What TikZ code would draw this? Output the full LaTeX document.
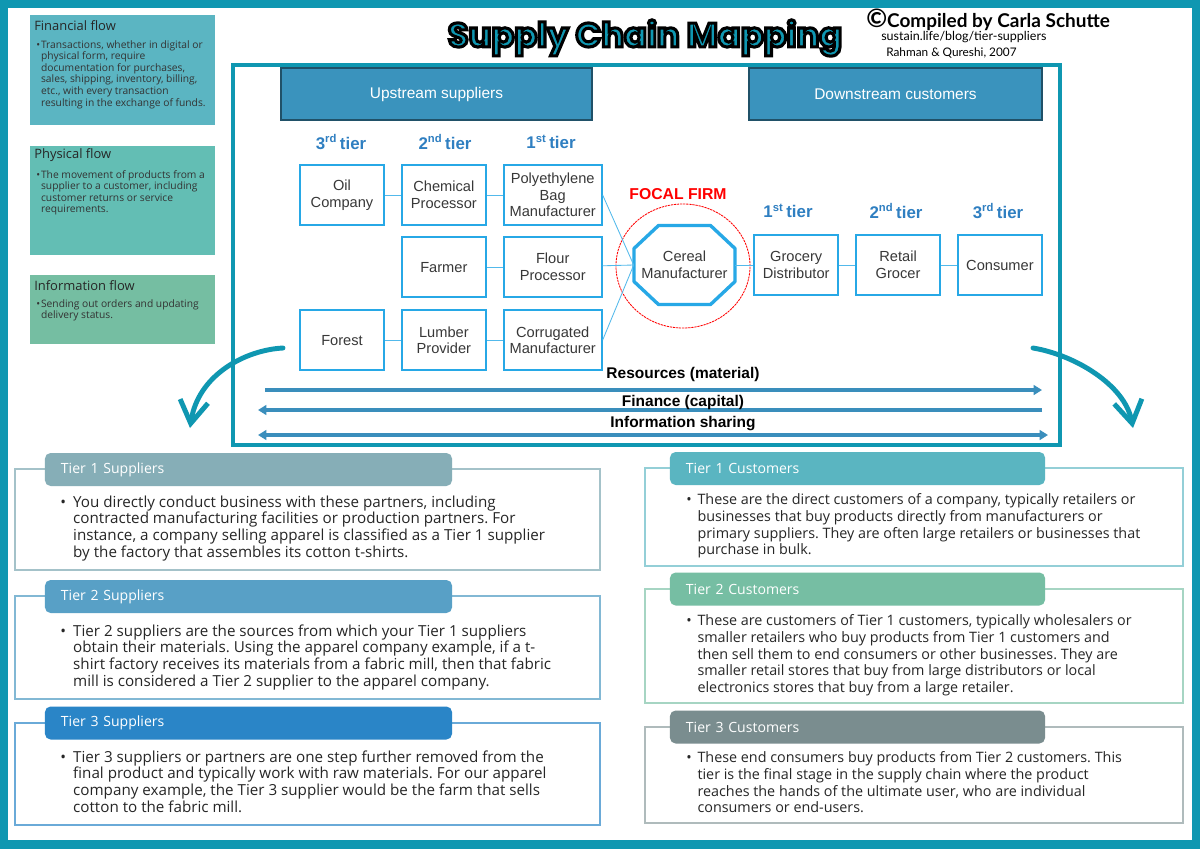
\documentclass[tikz,border=0pt]{standalone}
\usepackage{fontspec}
\setmainfont{Open Sans}
\newfontfamily\latof{Lato}
\newfontfamily\arialf{Liberation Sans}
\newfontfamily\titlef{Poppins}
\usetikzlibrary{arrows.meta, positioning, calc}
\definecolor{pageTeal}{HTML}{0F97B1}
\definecolor{entBlue}{HTML}{27A8E6}
\definecolor{hdrBlue}{HTML}{3A93BD}
\definecolor{tierBlue}{HTML}{2F7FC1}
\definecolor{flowBlue}{HTML}{3A8EBC}
\definecolor{finCol}{HTML}{5BB5C2}
\definecolor{physCol}{HTML}{63BEB4}
\definecolor{infoCol}{HTML}{75BEA2}
\definecolor{tOneS}{HTML}{86AEB7}
\definecolor{tTwoS}{HTML}{58A0C6}
\definecolor{tThreeS}{HTML}{2A85C7}
\definecolor{tOneC}{HTML}{5AB5C1}
\definecolor{tTwoC}{HTML}{76BEA3}
\definecolor{tThreeC}{HTML}{7A8D8F}
\newcommand{\bulpar}[2][9.2pt]{\makebox[#1][l]{\textbullet}\begin{tabular}[t]{@{}l@{}}#2\end{tabular}}
\newcommand{\outlined}[1]{\special{pdf:literal direct 0 0 0 RG 2.2 w 2 Tr}#1\special{pdf:literal direct 0 Tr}}
\frenchspacing

\begin{document}
\begin{tikzpicture}[x=0.025cm, y=-0.025cm,
    ent/.style={draw=entBlue, line width=1.3pt, minimum width=21mm, minimum height=15mm,
      align=center, inner sep=1pt, text=black!78, font=\arialf\fontsize{10.4}{11.8}\selectfont},
    tierlbl/.style={text=tierBlue, font=\arialf\bfseries\fontsize{12}{12}\selectfont},
    link/.style={draw=entBlue!80, line width=0.6pt},
    streamhdr/.style={fill=hdrBlue, draw=hdrBlue!55!black, line width=0.8pt, text=white,
      minimum height=13mm, font=\arialf\fontsize{11}{11}\selectfont},
    flowttl/.style={anchor=west, inner sep=0pt, text=black!85, font=\fontsize{9.2}{10}\selectfont},
    flowtxt/.style={anchor=north west, inner sep=0pt, text=black!80, font=\fontsize{7.3}{8.2}\selectfont},
    flowlbl/.style={inner sep=0pt, font=\arialf\bfseries\fontsize{11}{11}\selectfont},
    flowarr/.style={draw=flowBlue, line width=2.2pt, -{Triangle[length=6pt,width=7pt]}},
    bigbend/.style={draw=pageTeal, line width=3.5pt, line cap=round,
      -{Straight Barb[length=16pt,width=20pt]}},
    tierhdr/.style={rounded corners=4pt, minimum height=8.25mm, text width=#1, inner xsep=4mm,
      align=left, text=white, font=\fontsize{10}{11}\selectfont},
    tiertxt/.style={anchor=north west, inner sep=0pt, text=black!85, font=\fontsize{10.2}{11.8}\selectfont},
    suptxt/.style={tiertxt, font=\fontsize{10.8}{12}\selectfont},
    node distance=4mm and 4mm]

  % page and frames
  \fill[pageTeal] (0,0) rectangle (1200,849);
  \useasboundingbox (0,0) rectangle (1200,849);
  \fill[white] (8,8) rectangle (1192,840);
  \draw[pageTeal, line width=3.5pt] (233,65) rectangle (1060,445);

  % title block
  \node[text=pageTeal] (title) at (645,38) {\titlef\bfseries\fontsize{24}{25}\selectfont\outlined{Supply Chain Mapping}};
  \node[anchor=west, inner sep=0pt] (credit) at (866,20) {\latof\bfseries\fontsize{13.5}{13.5}\selectfont{\fontsize{18}{18}\selectfont\textcopyright}Compiled by Carla Schutte};
  \node[anchor=west, inner sep=0pt, font=\latof\fontsize{8.9}{9}\selectfont] (url) at (881,37) {sustain.life/blog/tier-suppliers};
  \node[anchor=west, inner sep=0pt, font=\latof\fontsize{8.4}{9}\selectfont] (ref) at (886,53) {Rahman \& Qureshi, 2007};

  % flow descriptions
  \fill[finCol] (30,15) rectangle (215,125);
  \fill[physCol] (30,146) rectangle (215,255);
  \fill[infoCol] (30,275) rectangle (215,344);
  \node[flowttl] (finT) at (34,26) {Financial flow};
  \node[flowtxt] (finB) at (36,40) {\bulpar[3.4pt]{Transactions, whether in digital or\\ physical form, require\\ documentation for purchases,\\ sales, shipping, inventory, billing,\\ etc., with every transaction\\ resulting in the exchange of funds.}};
  \node[flowttl] (physT) at (34,155) {Physical flow};
  \node[flowtxt] (physB) at (36,170) {\bulpar[3.4pt]{The movement of products from a\\ supplier to a customer, including\\ customer returns or service\\ requirements.}};
  \node[flowttl] (infoT) at (34,286) {Information flow};
  \node[flowtxt] (infoB) at (36,299) {\bulpar[3.4pt]{Sending out orders and updating\\ delivery status.}};

  % stream headers
  \node[streamhdr, minimum width=77.75mm] (upHdr) at (436.5,94) {Upstream suppliers};
  \node[streamhdr, minimum width=73.25mm] (downHdr) at (895.5,94) {Downstream customers};

  % tier labels
  \foreach \x/\t in {341/3\textsuperscript{rd}, 445/2\textsuperscript{nd}, 551/1\textsuperscript{st}}
    \node[tierlbl] at (\x,142) {\t\,tier};
  \foreach \x/\t in {788/1\textsuperscript{st}, 896/2\textsuperscript{nd}, 998/3\textsuperscript{rd}}
    \node[tierlbl] at (\x,211) {\t\,tier};

  % upstream entities
  \node[ent] (oil) at (342,195) {Oil\\Company};
  \node[ent, right=of oil] (chem) {Chemical\\Processor};
  \node[ent, right=of chem, minimum width=24.5mm] (poly) {Polyethylene\\Bag\\Manufacturer};
  \node[ent, below=2.55mm of chem] (farmer) {Farmer};
  \node[ent, below=2.55mm of poly, minimum width=24.5mm] (flour) {Flour\\Processor};
  \node[ent, below=2.8mm of farmer] (lumber) {Lumber\\Provider};
  \node[ent, left=of lumber] (forest) {Forest};
  \node[ent, right=of lumber, minimum width=24.5mm] (corr) {Corrugated\\Manufacturer};

  % focal firm
  \node[minimum width=25.25mm, minimum height=19.75mm, inner sep=0pt, align=center,
    text=black!78, font=\arialf\fontsize{10.4}{11.8}\selectfont] (cereal) at (684.5,265) {Cereal\\Manufacturer};
  \draw[entBlue, line width=2.4pt, line join=round]
    ($(cereal)+(-26,-39.5)$) -- ($(cereal)+(26,-39.5)$) -- ($(cereal)+(50.5,-16.5)$)
    -- ($(cereal)+(50.5,16.5)$) -- ($(cereal)+(26,39.5)$) -- ($(cereal)+(-26,39.5)$)
    -- ($(cereal)+(-50.5,16.5)$) -- ($(cereal)+(-50.5,-16.5)$) -- cycle;
  \draw[red, line width=0.6pt, dash pattern=on 1.6pt off 0.6pt] ($(cereal)+(-1.5,1)$) ellipse [x radius=1.675cm, y radius=1.55cm];
  \node[text=red, font=\arialf\bfseries\fontsize{11.2}{12}\selectfont] (focal) at (678,194) {FOCAL FIRM};

  % downstream entities
  \node[ent, right=4.5mm of cereal] (grocery) {Grocery\\Distributor};
  \node[ent, right=of grocery] (retail) {Retail\\Grocer};
  \node[ent, right=of retail] (consumer) {Consumer};

  % links
  \draw[link] (oil) -- (chem);
  \draw[link] (chem) -- (poly);
  \draw[link] (farmer) -- (flour);
  \draw[link] (forest) -- (lumber);
  \draw[link] (lumber) -- (corr);
  \draw[link] (poly.east) -- (cereal.west);
  \draw[link] (flour) -- (cereal.west);
  \draw[link] (corr.east) -- (cereal.west);
  \draw[link] (cereal.east) -- (grocery);
  \draw[link] (grocery) -- (retail);
  \draw[link] (retail) -- (consumer);

  % flows along the chain
  \coordinate (resL) at (265,390);  \coordinate (resR) at (1042,390);
  \coordinate (finL) at (258,410);  \coordinate (finR) at (1042,410);
  \coordinate (infL) at (258,435);  \coordinate (infR) at (1048,435);
  \node[flowlbl] (resLbl) at (683,374) {Resources (material)};
  \draw[flowarr] (resL) -- (resR);
  \draw[flowarr] (finR) -- (finL);
  \node[flowlbl] (finLbl) at (683,402) {Finance (capital)};
  \draw[flowarr, {Triangle[length=6pt,width=7pt]}-{Triangle[length=6pt,width=7pt]}] (infL) -- (infR);
  \node[flowlbl] (infLbl) at (683,424) {Information sharing};

  % bent arrows down to the tier notes
  \coordinate (lbStart) at (283,348);  \coordinate (lbTip) at (190,428);
  \coordinate (rbStart) at (1033,348); \coordinate (rbTip) at (1133,428);
  \draw[bigbend] (lbStart) .. controls (245,350) and (198,375) .. (lbTip);
  \draw[bigbend] (rbStart) .. controls (1075,355) and (1125,385) .. (rbTip);

  % supplier notes
  \draw[tOneS!75, line width=1.1pt] (15,469) rectangle (600,570);
  \draw[tTwoS!75, line width=1.1pt] (15,596) rectangle (600,699);
  \draw[tThreeS!70, line width=1.1pt] (15,723) rectangle (600,825);
  \node[tierhdr=93.75mm, fill=tOneS] (t1sHdr) at (248.5,469.5) {Tier 1 Suppliers};
  \node[tierhdr=93.75mm, fill=tTwoS] (t2sHdr) at (248.5,596.5) {Tier 2 Suppliers};
  \node[tierhdr=93.75mm, fill=tThreeS] (t3sHdr) at (248.5,723) {Tier 3 Suppliers};
  \node[suptxt] (t1sTxt) at (60,495) {\bulpar{You directly conduct business with these partners, including\\ contracted manufacturing facilities or production partners. For\\ instance, a company selling apparel is classified as a Tier 1 supplier\\ by the factory that assembles its cotton t-shirts.}};
  \node[suptxt] (t2sTxt) at (60,624) {\bulpar{Tier 2 suppliers are the sources from which your Tier 1 suppliers\\ obtain their materials. Using the apparel company example, if a t-\\ shirt factory receives its materials from a fabric mill, then that fabric\\ mill is considered a Tier 2 supplier to the apparel company.}};
  \node[suptxt] (t3sTxt) at (60,750) {\bulpar{Tier 3 suppliers or partners are one step further removed from the\\ final product and typically work with raw materials. For our apparel\\ company example, the Tier 3 supplier would be the farm that sells\\ cotton to the fabric mill.}};

  % customer notes
  \draw[tOneC!65, line width=1.1pt] (645,468) rectangle (1183,566);
  \draw[tTwoC!65, line width=1.1pt] (645,589) rectangle (1183,703);
  \draw[tThreeC!60, line width=1.1pt] (645,727) rectangle (1183,823);
  \node[tierhdr=85.75mm, fill=tOneC] (t1cHdr) at (857.5,468.5) {Tier 1 Customers};
  \node[tierhdr=85.75mm, fill=tTwoC] (t2cHdr) at (857.5,589) {Tier 2 Customers};
  \node[tierhdr=85.75mm, fill=tThreeC] (t3cHdr) at (857.5,727) {Tier 3 Customers};
  \node[tiertxt] (t1cTxt) at (686,493) {\bulpar[8pt]{These are the direct customers of a company, typically retailers or\\ businesses that buy products directly from manufacturers or\\ primary suppliers. They are often large retailers or businesses that\\ purchase in bulk.}};
  \node[tiertxt] (t2cTxt) at (686,614) {\bulpar[8pt]{These are customers of Tier 1 customers, typically wholesalers or\\ smaller retailers who buy products from Tier 1 customers and\\ then sell them to end consumers or other businesses. They are\\ smaller retail stores that buy from large distributors or local\\ electronics stores that buy from a large retailer.}};
  \node[tiertxt] (t3cTxt) at (686,751) {\bulpar[8pt]{These end consumers buy products from Tier 2 customers. This\\ tier is the final stage in the supply chain where the product\\ reaches the hands of the ultimate user, who are individual\\ consumers or end-users.}};
\end{tikzpicture}
\end{document}
